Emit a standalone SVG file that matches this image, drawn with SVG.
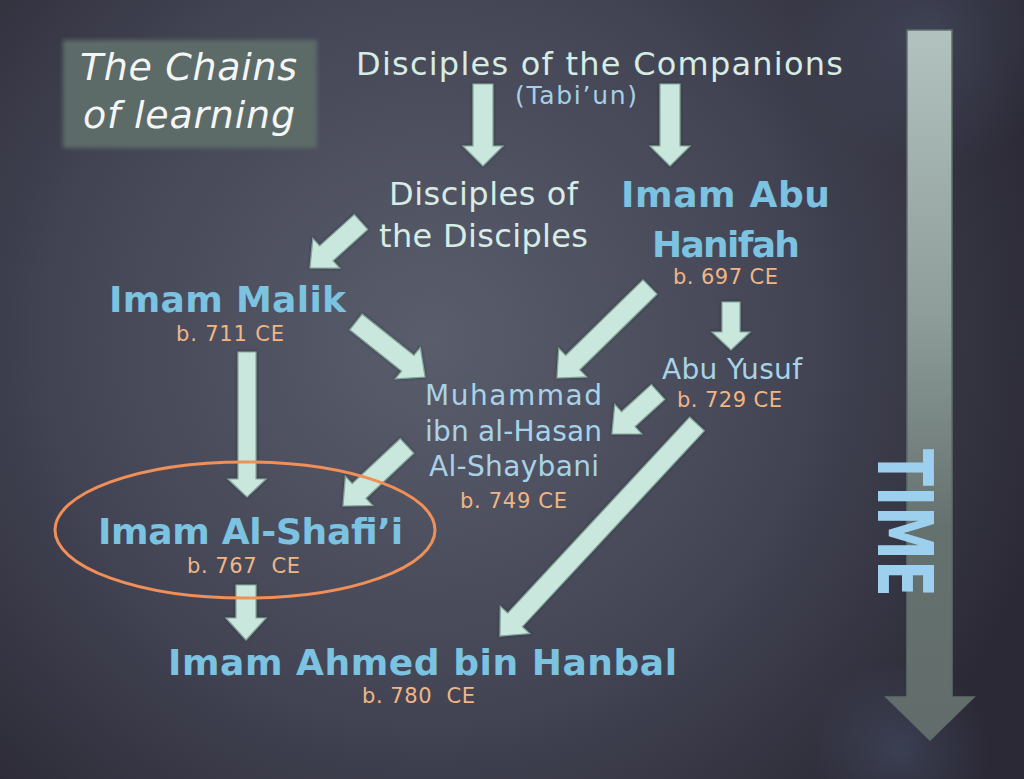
<svg xmlns="http://www.w3.org/2000/svg" width="1024" height="779" viewBox="0 0 1024 779">
<defs>
  <radialGradient id="bg" cx="430" cy="340" r="640" gradientUnits="userSpaceOnUse">
    <stop offset="0" stop-color="#5a5d6c"/>
    <stop offset="0.55" stop-color="#444656"/>
    <stop offset="1" stop-color="#2b2935"/>
  </radialGradient>
  <radialGradient id="spot1" cx="930" cy="30" r="140" gradientUnits="userSpaceOnUse">
    <stop offset="0" stop-color="#55607a" stop-opacity="0.4"/>
    <stop offset="1" stop-color="#55607a" stop-opacity="0"/>
  </radialGradient>
  <radialGradient id="spot2" cx="900" cy="750" r="90" gradientUnits="userSpaceOnUse">
    <stop offset="0" stop-color="#4c5874" stop-opacity="0.45"/>
    <stop offset="1" stop-color="#4c5874" stop-opacity="0"/>
  </radialGradient>
  <linearGradient id="timeGrad" x1="0" y1="30" x2="0" y2="740" gradientUnits="userSpaceOnUse">
    <stop offset="0" stop-color="#b2c2bf"/>
    <stop offset="0.4" stop-color="#8e9d9a"/>
    <stop offset="0.7" stop-color="#65716f"/>
    <stop offset="1" stop-color="#626d6b"/>
  </linearGradient>
  <filter id="soft" x="-10%" y="-10%" width="120%" height="120%">
    <feGaussianBlur stdDeviation="2"/>
  </filter>
  <filter id="glow" x="-10%" y="-10%" width="120%" height="120%">
    <feGaussianBlur in="SourceAlpha" stdDeviation="1.5" result="b"/>
    <feFlood flood-color="#1e2a28" flood-opacity="0.6"/>
    <feComposite in2="b" operator="in" result="s"/>
    <feMerge><feMergeNode in="s"/><feMergeNode in="SourceGraphic"/></feMerge>
  </filter>
</defs>
<style>
  .arrow { fill: #c9e7dc; stroke: #86a69c; stroke-width: 1.2; stroke-linejoin: miter; }
  .t { font-family: "DejaVu Sans", "Liberation Sans", sans-serif; }
  .big { font-size: 32px; fill: #d6ece4; }
  .name { font-size: 36px; font-weight: bold; fill: #7bc3e0; }
  .mid { font-size: 28px; fill: #a8d3e7; }
  .date { font-size: 21px; fill: #f1b586; }
  .title { font-size: 38px; font-style: italic; fill: #f4f6f5; }
</style>

<rect x="0" y="0" width="1024" height="779" fill="url(#bg)"/>
<rect x="0" y="0" width="1024" height="779" fill="url(#spot1)"/>
<rect x="0" y="0" width="1024" height="779" fill="url(#spot2)"/>

<g id="time-arrow">
  <polygon points="907,30 952,30 952,697 974,697 930,740 886,697 907,697" fill="url(#timeGrad)" stroke="#5f6d6a" stroke-width="1.5"/>
  <text class="t" transform="translate(878,449) rotate(90)" x="0" y="0" font-size="76" font-weight="bold" fill="#9dd0ee" textLength="148" lengthAdjust="spacingAndGlyphs">TIME</text>
</g>

<g id="title">
  <rect x="63" y="40" width="254" height="108" fill="#5b6a68" filter="url(#soft)"/>
  <text class="t title" x="80" y="80" textLength="217">The Chains</text>
  <text class="t title" x="83" y="128" textLength="212">of learning</text>
</g>

<g id="connectors" filter="url(#glow)">
  <polygon class="arrow" points="473,84 473,146 463,146 483,166 503,146 493,146 493,84"/>
  <polygon class="arrow" points="660,84 660,146 650,146 670,166 690,146 680,146 680,84"/>
  <polygon class="arrow" points="354.3,214.6 319.6,245.9 312.9,238.4 310,268 339.7,268.1 333,260.7 367.7,229.4"/>
  <polygon class="arrow" points="349.8,329.8 401.6,371.1 395.3,378.9 425,377 420.3,347.7 414,355.5 362.2,314.2"/>
  <polygon class="arrow" points="643,279.9 565.7,355.5 558.8,348.3 557,378 586.7,376.9 579.7,369.8 657,294.2"/>
  <polygon class="arrow" points="722,302 722,332 712,332 731,350 750,332 740,332 740,302"/>
  <polygon class="arrow" points="651.3,384.6 621.5,411.8 614.8,404.4 612,434 641.7,433.9 635,426.6 664.7,399.4"/>
  <polygon class="arrow" points="689.7,417.2 507.7,613.1 500.3,606.3 500,636 529.6,633.5 522.3,626.7 704.3,430.8"/>
  <polygon class="arrow" points="400.2,438.7 352.2,483.7 345.4,476.4 343,506 372.7,505.5 365.9,498.3 413.8,453.3"/>
  <polygon class="arrow" points="238,352 238,479 228,479 247,497 266,479 256,479 256,352"/>
  <polygon class="arrow" points="236,585 236,618 226,618 246,640 266,618 256,618 256,585"/>
</g>

<g id="companions">
  <text class="t big" x="356" y="75" textLength="487">Disciples of the Companions</text>
  <text class="t" x="515" y="104" font-size="25" fill="#a6d0e4" textLength="122">(Tabi’un)</text>
</g>

<g id="disciples-of-disciples">
  <text class="t big" x="389" y="205" textLength="189">Disciples of</text>
  <text class="t big" x="379" y="247" textLength="209">the Disciples</text>
</g>

<g id="abu-hanifah">
  <text class="t name" x="621" y="207" textLength="209">Imam Abu</text>
  <text class="t name" x="652" y="257" textLength="148">Hanifah</text>
  <text class="t date" x="673" y="284" textLength="105">b. 697 CE</text>
</g>

<g id="malik">
  <text class="t name" x="109" y="312" textLength="237">Imam Malik</text>
  <text class="t date" x="176" y="341" textLength="108">b. 711 CE</text>
</g>

<g id="abu-yusuf">
  <text class="t mid" x="662" y="379" textLength="140">Abu Yusuf</text>
  <text class="t date" x="677" y="407" textLength="105">b. 729 CE</text>
</g>

<g id="shaybani">
  <text class="t mid" x="425" y="405" textLength="177">Muhammad</text>
  <text class="t mid" x="425" y="441" textLength="177">ibn al-Hasan</text>
  <text class="t mid" x="429" y="476" textLength="170">Al-Shaybani</text>
  <text class="t date" x="460" y="508" textLength="107">b. 749 CE</text>
</g>

<g id="shafii">
  <ellipse cx="245" cy="530" rx="190" ry="68" fill="none" stroke="#f08f58" stroke-width="3"/>
  <text class="t name" x="98" y="544" textLength="305">Imam Al-Shafi’i</text>
  <text class="t date" x="187" y="573" textLength="113" xml:space="preserve">b. 767  CE</text>
</g>

<g id="hanbal">
  <text class="t name" x="168" y="675" textLength="509">Imam Ahmed bin Hanbal</text>
  <text class="t date" x="362" y="703" font-size="20" textLength="113" xml:space="preserve">b. 780  CE</text>
</g>
</svg>
